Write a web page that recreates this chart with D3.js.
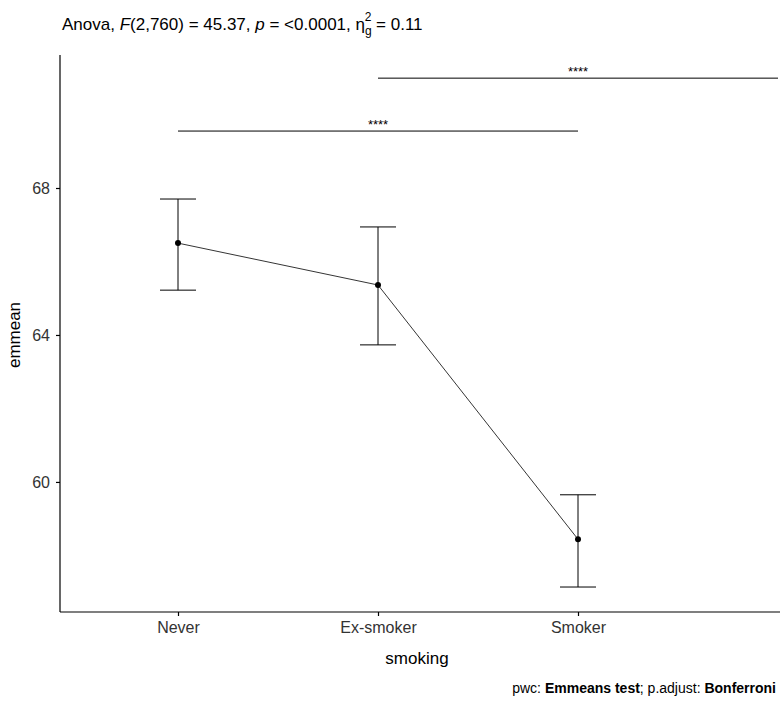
<!DOCTYPE html>
<html><head><meta charset="utf-8">
<script src="https://cdn.jsdelivr.net/npm/d3@7"></script>
<style>body{margin:0;background:#fff}svg{font-family:"Liberation Sans",Arial,sans-serif}</style>
</head><body>
<svg id="chart" width="780" height="705"></svg>
<script>
const groups = ["Never", "Ex-smoker", "Smoker"];
const emmean = [66.50, 65.36, 58.44];
const lower = [65.22, 63.73, 57.14];
const upper = [67.70, 66.94, 59.65];
const yTicks = [60, 64, 68];
const brackets = [
  {from: "Never", to: "Smoker", y: 69.55, label: "****"},
  {from: "Ex-smoker", to: "", y: 70.99, label: "****"}
];

const svg = d3.select("#chart");
const plotLeft = 60, plotBottom = 612, plotTop = 55;

const x = d3.scalePoint().domain([...groups, ""]).range([178, 778]);
const y = d3.scaleLinear().domain([56.46, 71.62]).range([plotBottom, plotTop]);

// axes
const gy = svg.append("g").attr("transform", `translate(${plotLeft},0)`)
  .call(d3.axisLeft(y).tickValues(yTicks).tickSize(4).tickPadding(6).tickSizeOuter(0));
gy.select(".domain").attr("d", `M0,${plotTop}V${plotBottom}`);
const gx = svg.append("g").attr("transform", `translate(0,${plotBottom})`)
  .call(d3.axisBottom(x).tickValues(groups).tickSize(4).tickPadding(6).tickSizeOuter(0));
gx.select(".domain").attr("d", `M${plotLeft},0H780`);
svg.selectAll(".tick text").attr("font-size", 16).attr("fill", "#333");
svg.selectAll(".tick line, .domain").attr("stroke", "#000").attr("stroke-width", 1.2);

// error bars
const eb = svg.append("g").selectAll("g").data(groups).join("g");
eb.append("line").attr("x1", d => x(d)).attr("x2", d => x(d))
  .attr("y1", (d, i) => y(lower[i])).attr("y2", (d, i) => y(upper[i])).attr("stroke", "#000");
[upper, lower].forEach(arr => {
  eb.append("line").attr("x1", d => x(d) - 18).attr("x2", d => x(d) + 18)
    .attr("y1", (d, i) => y(arr[i])).attr("y2", (d, i) => y(arr[i])).attr("stroke", "#000");
});

// line and points
svg.append("path").datum(groups)
  .attr("d", d3.line().x(d => x(d)).y((d, i) => y(emmean[i])))
  .attr("fill", "none").attr("stroke", "#000").attr("stroke-width", 0.8);
svg.append("g").selectAll("circle").data(groups).join("circle")
  .attr("cx", d => x(d)).attr("cy", (d, i) => y(emmean[i])).attr("r", 3).attr("fill", "#000");

// brackets
brackets.forEach(b => {
  svg.append("line").attr("x1", x(b.from)).attr("x2", x(b.to))
    .attr("y1", y(b.y)).attr("y2", y(b.y)).attr("stroke", "#000");
  svg.append("text").attr("x", (x(b.from) + x(b.to)) / 2).attr("y", y(b.y) - 2)
    .attr("text-anchor", "middle").attr("font-size", 13).text(b.label);
});

// titles
svg.append("text").attr("x", 417).attr("y", 664).attr("text-anchor", "middle")
  .attr("font-size", 17).text("smoking");
svg.append("text").attr("transform", "translate(20,335) rotate(-90)").attr("text-anchor", "middle")
  .attr("font-size", 17).text("emmean");

const t = svg.append("text").attr("x", 62).attr("y", 30).attr("font-size", 17);
t.append("tspan").text("Anova, ");
t.append("tspan").attr("font-style", "italic").text("F");
t.append("tspan").text("(2,760) = 45.37, ");
t.append("tspan").attr("font-style", "italic").text("p");
t.append("tspan").text(" = <0.0001, η");
t.append("tspan").attr("font-size", 12).attr("dy", 5).text("g");
t.append("tspan").attr("font-size", 12).attr("dx", -7).attr("dy", -14).text("2");
t.append("tspan").attr("dy", 9).text(" = 0.11");

const c = svg.append("text").attr("x", 776).attr("y", 693).attr("text-anchor", "end").attr("font-size", 14);
c.append("tspan").text("pwc: ");
c.append("tspan").attr("font-weight", "bold").text("Emmeans test");
c.append("tspan").text("; p.adjust: ");
c.append("tspan").attr("font-weight", "bold").text("Bonferroni");
</script>
</body></html>
